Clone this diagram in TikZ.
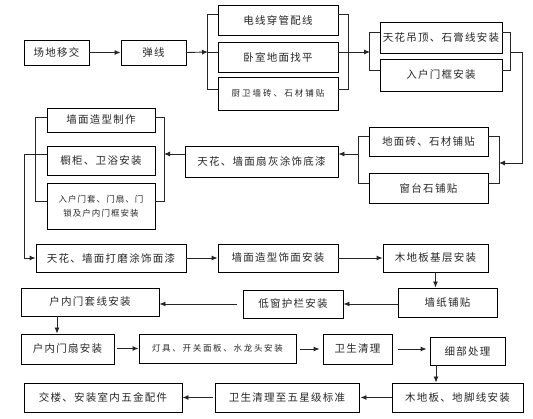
\documentclass[tikz,border=0pt]{standalone}
\usepackage{fontspec}
\usetikzlibrary{arrows.meta,calc}
\newfontfamily\cjk[LetterSpace=12]{Noto Sans CJK SC}
\newfontfamily\cjkw[LetterSpace=20]{Noto Sans CJK SC}
\newfontfamily\cjks[LetterSpace=24]{Noto Sans CJK SC}
\newfontfamily\cjkt[LetterSpace=12]{Noto Sans CJK SC}
\newcommand\bx[6]{\node[box,minimum width={(#4-#2)*1pt},minimum height={(#5-#3)*1pt}] (#1) at ({(#2+#4)/2},{(#3+#5)/2}) {#6};}
\begin{document}
\begin{tikzpicture}[x=1pt,y=-1pt,
  box/.style={draw=black,line width=0.9pt,inner sep=0pt,text=black!85,font=\cjk\fontsize{10.5}{12}\selectfont},
  small/.style={font=\cjks\fontsize{8.5}{10}\selectfont},
  tiny/.style={font=\cjkt\fontsize{8.5}{14}\selectfont,align=center},
  ln/.style={draw=black!85,line width=0.9pt},
  arr/.style={ln,-{Latex[length=6pt,width=5pt]}}]
\useasboundingbox (0,0) rectangle (533,419);
% boxes
\bx{A}{24}{40}{89}{65}{场地移交}
\bx{B}{121}{40}{186}{65}{弹线}
\bx{C1}{218}{5}{338}{35}{电线穿管配线}
\bx{C2}{218}{42}{338}{72}{卧室地面找平}
\node[box,small,minimum width=120pt,minimum height=33pt] (C3) at (278,93.5) {厨卫墙砖、石材铺贴};
\bx{D1}{380}{22}{502}{53}{天花吊顶、石膏线安装}
\bx{D2}{380}{59}{502}{91}{入户门框安装}
\bx{E1}{369}{127}{488}{156}{地面砖、石材铺贴}
\bx{E2}{369}{173}{488}{203}{窗台石铺贴}
\bx{F}{185}{146}{338}{177}{天花、墙面扇灰涂饰底漆}
\bx{G1}{47}{108}{155}{132}{墙面造型制作}
\bx{G2}{47}{146}{155}{175}{橱柜、卫浴安装}
\node[box,tiny,minimum width=108pt,minimum height=46pt] (G3) at (101,206) {入户门套、门扇、门\\锁及户内门框安装};
\bx{H}{36}{244}{186}{272}{天花、墙面打磨涂饰面漆}
\bx{I}{218}{244}{338}{272}{墙面造型饰面安装}
\bx{J}{383}{244}{488}{272}{木地板基层安装}
\bx{K}{398}{288}{497}{317}{墙纸铺贴}
\bx{L}{243}{290}{343}{318}{低窗护栏安装}
\bx{M}{21}{288}{159}{316}{户内门套线安装}
\bx{N}{21}{334}{114}{364}{户内门扇安装}
\node[box,font=\cjkw\fontsize{8.5}{10}\selectfont,minimum width=157pt,minimum height=29pt] (O) at (217.5,348.5) {灯具、开关面板、水龙头安装};
\bx{P}{323}{334}{392}{364}{卫生清理}
\bx{Q}{430}{337}{505}{365}{细部处理}
\bx{R}{392}{383}{523}{412}{木地板、地脚线安装}
\bx{S}{215}{383}{359}{412}{卫生清理至五星级标准}
\bx{T}{24}{383}{182}{412}{交楼、安装室内五金配件}
% free ends
\coordinate (bl) at (208,52);
\coordinate (cr) at (348,52);
\coordinate (dl) at (370,52);
\coordinate (dr) at (510,52);
\coordinate (er) at (499,163);
\coordinate (el) at (359,154);
\coordinate (gr) at (164,154);
% connectors
\draw[arr] (A) -- (B);
\draw[arr] (B.east) -- (bl);
\draw[ln] ([yshift=6pt]C1.west) -- ++(-10,0) |- ([yshift=4.5pt]C3.west);
\draw[ln] ([yshift=5pt]C2.west) -- ++(-10,0);
\draw[ln] ([yshift=6pt]C1.east) -- ++(10,0) |- ([yshift=4.5pt]C3.east);
\draw[ln] ([yshift=5pt]C2.east) -- ++(10,0);
\draw[arr] (cr) -- (dl);
\draw[ln] ([yshift=5pt]D1.west) -- ++(-10,0) |- ([yshift=5pt]D2.west);
\draw[ln] ([yshift=5pt]D1.east) -- ++(8,0) |- ([yshift=5pt]D2.east);
\draw[arr] (dr) -- ++(12,0) |- (er);
\draw[ln] ([yshift=5.5pt]E1.east) -- ++(11,0) |- ([yshift=5pt]E2.east);
\draw[ln] ([yshift=5.5pt]E1.west) -- ++(-10,0) |- ([yshift=5pt]E2.west);
\draw[arr] (el) -- (F.east |- el);
\draw[arr] (F.west |- gr) -- (gr);
\draw[ln] ([yshift=3pt]G1.east) -- ++(9,0) |- ([yshift=5pt]G3.east);
\draw[ln] ([yshift=3pt]G1.west) -- ++(-11,0) |- ([yshift=5pt]G3.west);
\draw[arr] ([yshift=6.5pt]G2.west) -- ++(-22,0) |- (H.west);
\draw[arr] (H) -- (I);
\draw[arr] (I) -- (J);
\draw[arr] (J.south) -- (J.south |- K.north);
\draw[arr] (K.west |- L.east) -- (L.east);
\draw[arr,shorten <=6pt] (L.west) -- (M.east |- L.west);
\draw[arr] ([xshift=-33pt]M.south) -- ([xshift=-33pt]M.south |- N.north);
\draw[arr,shorten <=3pt] (N.east |- O.west) -- (O.west);
\draw[arr,shorten <=4pt,shorten >=3pt] (O.east |- P.west) -- (P.west);
\draw[arr,shorten <=6pt,shorten >=3pt] (P.east) -- (P.east -| Q.west);
\draw[arr] ([xshift=-31.5pt]Q.south) -- ([xshift=-31.5pt]Q.south |- R.north);
\draw[arr,shorten >=1pt] (R) -- (S);
\draw[arr,shorten <=2pt] (S) -- (T);
\end{tikzpicture}
\end{document}
